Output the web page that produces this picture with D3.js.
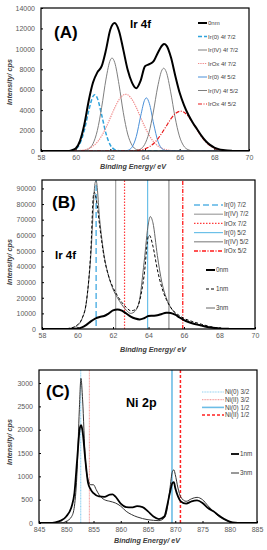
<!DOCTYPE html>
<html><head><meta charset="utf-8">
<script src="https://cdn.jsdelivr.net/npm/d3@7"></script>
<style>body{margin:0;background:#fff}svg{display:block}text{font-family:"Liberation Sans",Arial,sans-serif}</style>
</head><body><svg id="c" width="267" height="550"></svg>
<script>
// ---------- Panel A: Ir 4f fit (Binding energy eV, intensity cps) ----------
const irTotal0nm = [[58,0],[59.5,0],[59.75,60],[60,250],[60.25,1000],[60.5,2600],[60.75,4900],[61,6700],[61.25,7700],[61.5,8300],[61.75,9900],[62,11900],[62.25,12530],[62.5,11750],[62.75,9900],[63,7950],[63.25,6700],[63.5,6150],[63.75,6900],[64,8300],[64.25,8500],[64.5,8800],[64.75,9650],[65,10350],[65.1,10470],[65.25,10300],[65.5,9150],[65.75,7350],[66,5700],[66.25,4500],[66.5,3550],[66.75,2800],[67,2150],[67.25,1500],[67.5,980],[67.75,600],[68,340],[68.25,180],[68.5,90],[68.75,40],[69,15],[69.25,0],[70,0]];
const ir0_72 = [[58,0],[59.5,0],[59.75,35],[60,190],[60.25,740],[60.5,2030],[60.75,3910],[61,5350],[61.1,5500],[61.25,5170],[61.5,3530],[61.75,1700],[62,580],[62.25,140],[62.5,25],[62.75,0],[70,0]];
const irIV_72 = [[58,0],[60,0],[60.25,7],[60.5,45],[60.75,200],[61,720],[61.25,2000],[61.5,4280],[61.75,7040],[62,8910],[62.1,9100],[62.25,8680],[62.5,6510],[62.75,3750],[63,1660],[63.25,570],[63.5,150],[63.75,30],[64,0],[70,0]];
const irOx_72 = [[58,0],[60,0],[60.25,45],[60.5,110],[60.75,240],[61,480],[61.25,880],[61.5,1480],[61.75,2290],[62,3250],[62.25,4220],[62.5,5020],[62.75,5490],[62.88,5550],[63,5500],[63.25,5050],[63.5,4250],[63.75,3280],[64,2330],[64.25,1510],[64.5,900],[64.75,490],[65,250],[65.25,110],[65.5,45],[65.75,0],[70,0]];
const ir0_52 = [[58,0],[62.75,0],[63,60],[63.25,370],[63.5,1430],[63.75,3420],[64,5070],[64.08,5200],[64.25,4660],[64.5,2640],[64.75,930],[65,200],[65.25,30],[65.5,0],[70,0]];
const irIV_52 = [[58,0],[63,0],[63.23,6],[63.48,40],[63.73,177],[63.98,640],[64.23,1780],[64.48,3810],[64.73,6265],[64.98,7930],[65.08,8100],[65.23,7725],[65.48,5790],[65.73,3340],[65.98,1480],[66.23,506],[66.48,133],[66.73,27],[67,0],[70,0]];
const irOx_52 = [[58,0],[63.25,0],[63.5,45],[63.75,100],[64,210],[64.25,410],[64.5,740],[64.75,1210],[65,1820],[65.25,2500],[65.5,3160],[65.75,3660],[66,3890],[66.05,3900],[66.25,3790],[66.5,3390],[66.75,2780],[67,2090],[67.25,1440],[67.5,910],[67.75,530],[68,280],[68.25,140],[68.5,60],[68.75,25],[69,0],[70,0]];
const legendA = ["0nm","Ir(0) 4f 7/2","Ir(IV) 4f 7/2","IrOx 4f 7/2","Ir(0) 4f 5/2","Ir(IV) 4f 5/2","IrOx 4f 5/2"];
const yTicksA = [0,2000,4000,6000,8000,10000,12000,14000];
const xTicksIr = [58,60,62,64,66,68,70];

// ---------- Panel B: Ir 4f depth profile ----------
const ir1nm = [[58,0],[59.25,0],[59.5,400],[59.75,1000],[60,2800],[60.25,6600],[60.5,17500],[60.75,50000],[60.9,86000],[60.95,87500],[61.1,80000],[61.25,66000],[61.5,46000],[61.75,34000],[62,26600],[62.25,21300],[62.5,17000],[62.75,13800],[63,11700],[63.25,12300],[63.5,18000],[63.75,34000],[64,59600],[64.05,60000],[64.25,53000],[64.5,38000],[64.75,26600],[65,19000],[65.25,13800],[65.5,10600],[65.75,8500],[66,6800],[66.5,4700],[67,3000],[67.5,1500],[68,500],[68.5,150],[69,0],[70,0]];
const ir3nm = [[58,0],[59.25,0],[59.5,300],[59.75,900],[60,2100],[60.25,6400],[60.5,17000],[60.75,47000],[61,94000],[61.05,94800],[61.25,70000],[61.5,47000],[61.75,34000],[62,25500],[62.25,20000],[62.5,15500],[62.75,12000],[63,10000],[63.25,11500],[63.5,19000],[63.75,42500],[64,68000],[64.1,72000],[64.25,68000],[64.5,47000],[64.75,30000],[65,20000],[65.25,13800],[65.5,10000],[65.75,7400],[66,5700],[66.5,3600],[67,2100],[67.5,1000],[68,400],[68.5,100],[69,0],[70,0]];
const refLinesB = [61.05,62.15,62.65,63.95,65.15,65.93];
const legendB = ["Ir(0) 7/2","Ir(IV) 7/2","IrOx 7/2","Ir(0) 5/2","Ir(IV) 5/2","IrOx 5/2"];
const legendDepthB = ["0nm","1nm","3nm"];
const yTicksB = [0,10000,20000,30000,40000,50000,60000,70000,80000,90000];

// ---------- Panel C: Ni 2p ----------
const ni1nm = [[845,0],[847,0],[848,15],[849,50],[850,140],[851,360],[851.5,640],[852,1360],[852.5,2040],[852.75,2100],[853,1960],[853.5,1360],[854,860],[854.5,715],[855,640],[856,570],[857,560],[858,610],[858.5,615],[859,570],[860,415],[861,340],[862,335],[863,360],[864,340],[865,250],[866,140],[867,85],[868,140],[868.5,360],[869,640],[869.5,860],[869.75,875],[870,750],[870.5,570],[871,465],[872,415],[873,465],[874,485],[875,430],[876,320],[877,250],[878,160],[879,85],[880,30],[881,5],[882,0],[885,0]];
const ni3nm = [[845,0],[849,0],[850,35],[851,140],[851.5,360],[852,1140],[852.4,2430],[852.7,3100],[853,2640],[853.5,1360],[854,930],[854.5,820],[855,820],[855.5,715],[856,610],[857,500],[858,465],[859,430],[860,360],[861,250],[862,180],[863,130],[864,95],[865,70],[866,57],[867,50],[868,110],[868.5,285],[869,715],[869.5,1110],[869.75,1140],[870,1040],[870.5,750],[871,560],[872,465],[873,520],[874,550],[875,500],[876,370],[877,250],[878,140],[879,70],[880,20],[881,0],[885,0]];
const refLinesC = [852.65,854.25,869.4,870.95];
const legendC = ["Ni(0) 3/2","Ni(II) 3/2","Ni(0) 1/2","Ni(II) 1/2"];
const legendDepthC = ["1nm","3nm"];
const yTicksC = [0,500,1000,1500,2000,2500,3000];
const xTicksC = [845,850,855,860,865,870,875,880,885];

const svg = d3.select("#c");
svg.append("rect").attr("width",267).attr("height",550).attr("fill","#fff");
let clipN = 0;

function panel(o){
  const x = d3.scaleLinear().domain(o.xd).range([o.l,o.r]);
  const y = d3.scaleLinear().domain(o.yd).range([o.b,o.t]);
  const g = svg.append("g");
  const id = "clip"+(clipN++);
  g.append("clipPath").attr("id",id).append("rect")
    .attr("x",o.l).attr("y",o.t).attr("width",o.r-o.l).attr("height",o.b-o.t);
  const ya = g.append("g").attr("transform",`translate(${o.l},0)`)
    .call(d3.axisLeft(y).tickValues(o.yt).tickSize(-2).tickPadding(6).tickFormat(d3.format("d")));
  const xa = g.append("g").attr("transform",`translate(0,${o.b})`)
    .call(d3.axisBottom(x).tickValues(o.xt).tickSize(-2).tickPadding(4).tickFormat(d3.format("d")));
  [ya,xa].forEach(a=>{
    a.select(".domain").remove();
    a.selectAll("line").attr("stroke","#000");
    a.selectAll("text").attr("font-size",7).attr("fill","#595959");
  });
  const plot = g.append("g").attr("clip-path",`url(#${id})`);
  const line = d3.line().x(d=>x(d[0])).y(d=>y(d[1])).curve(d3.curveMonotoneX);
  (o.vlines||[]).forEach(v=>{
    plot.append("line").attr("x1",x(v.x)).attr("x2",x(v.x)).attr("y1",y(v.y0||0)).attr("y2",o.t)
      .attr("stroke",v.c).attr("stroke-width",v.w).attr("stroke-dasharray",v.d||null);
  });
  o.series.forEach(s=>{
    plot.append("path").datum(s.data).attr("d",line).attr("fill","none")
      .attr("stroke",s.c).attr("stroke-width",s.w).attr("stroke-dasharray",s.d||null)
      .attr("stroke-linejoin","round");
  });
  g.append("rect").attr("x",o.l).attr("y",o.t).attr("width",o.r-o.l).attr("height",o.b-o.t)
    .attr("fill","none").attr("stroke","#000").attr("stroke-width",1.2);
  g.append("text").attr("x",o.xtX).attr("y",o.xtY).attr("text-anchor","middle")
    .attr("font-size",7.2).attr("font-weight","bold").attr("font-style","italic").attr("fill","#404040")
    .text("Binding Energy/ eV");
  g.append("text").attr("transform",`translate(${o.ytX},${o.ytY}) rotate(-90)`).attr("text-anchor","middle")
    .attr("font-size",7.2).attr("font-weight","bold").attr("font-style","italic").attr("fill","#404040")
    .text("Intensity/ cps");
  g.append("text").attr("x",o.pl[0]).attr("y",o.pl[1]).attr("font-size",17).attr("font-weight","bold").text(o.plText);
  g.append("text").attr("x",o.el[0]).attr("y",o.el[1]).attr("font-size",o.elSize).attr("font-weight","bold").text(o.elText);
  o.legend.forEach(L=>{
    g.append("line").attr("x1",L.x1).attr("x2",L.x2).attr("y1",L.y).attr("y2",L.y)
      .attr("stroke",L.c).attr("stroke-width",L.w).attr("stroke-dasharray",L.d||null);
    g.append("text").attr("x",L.x2+1).attr("y",L.y).attr("dy","0.35em").attr("font-size",L.fs)
      .attr("fill","#404040").text(L.t);
  });
  return {x,y};
}

// styles
const sBlack = {c:"#000",w:2};
const sIr0_72 = {c:"#2fa3dc",w:1.5,d:"4,2"};
const sGray = {c:"#7f7f7f",w:1};
const sIrOx72 = {c:"#f08a8a",w:1.2,d:"1.3,1"};
const sIr0_52 = {c:"#4a90d9",w:1};
const sIrOx52 = {c:"#e8191a",w:1.2,d:"4,1.5,1,1.5"};
const stylesA = [sBlack,sIr0_72,sGray,sIrOx72,sIr0_52,sGray,sIrOx52];
const dataA = [irTotal0nm,ir0_72,irIV_72,irOx_72,ir0_52,irIV_52,irOx_52];

panel({
  xd:[58,70], yd:[0,14000], l:41, r:249, t:8, b:151, yt:yTicksA, xt:xTicksIr,
  series: dataA.map((d,i)=>Object.assign({data:d},stylesA[i])).slice(1).concat([Object.assign({data:irTotal0nm},sBlack)]),
  xtX:133, xtY:169, ytX:12, ytY:82,
  pl:[54,38], plText:"(A)", el:[130,28], elText:"Ir 4f", elSize:11.5,
  legend: legendA.map((t,i)=>Object.assign({t, x1:198, x2:207, y:23+i*13.5, fs:6},stylesA[i]))
});

const stylesBref = [
  {c:"#5ab4e5",w:1.5,d:"6,3"},
  {c:"#a0a0a0",w:1.2},
  {c:"#ff3b3b",w:1.2,d:"1.5,1.5"},
  {c:"#6cc0e8",w:1.2},
  {c:"#8c8c8c",w:1.2},
  {c:"#ff1a1a",w:1.3,d:"4,1.5,1,1.5"}
];
const stylesBdepth = [sBlack,{c:"#000",w:1,d:"3,2"},{c:"#666",w:1}];
panel({
  xd:[58,70], yd:[0,95400], l:42, r:255, t:180, b:329, yt:yTicksB, xt:xTicksIr,
  vlines: refLinesB.map((v,i)=>Object.assign({x:v, y0: i===0?2000:0},stylesBref[i])),
  series: [Object.assign({data:ir3nm},stylesBdepth[2]),Object.assign({data:ir1nm},stylesBdepth[1]),Object.assign({data:irTotal0nm},stylesBdepth[0])],
  xtX:153, xtY:352, ytX:12, ytY:262,
  pl:[52,208], plText:"(B)", el:[55,259], elText:"Ir 4f", elSize:11.5,
  legend: legendB.map((t,i)=>Object.assign({t, x1:194, x2:223, y:205+i*9.2, fs:6.3},stylesBref[i]))
    .concat(legendDepthB.map((t,i)=>Object.assign({t, x1:206, x2:215, y:270+i*19, fs:6.3},stylesBdepth[i])))
});

const stylesCref = [
  {c:"#8fd0f0",w:1.2,d:"1,0.6"},
  {c:"#f4a3a3",w:1.2,d:"1,0.6"},
  {c:"#6cbde6",w:1.6},
  {c:"#ff2222",w:1.5,d:"3,2"}
];
const stylesCdepth = [{c:"#000",w:1.8},{c:"#333",w:1}];
panel({
  xd:[845,885], yd:[0,3280], l:39, r:257, t:370, b:523, yt:yTicksC, xt:xTicksC,
  vlines: refLinesC.map((v,i)=>Object.assign({x:v},stylesCref[i])),
  series: [Object.assign({data:ni3nm},stylesCdepth[1]),Object.assign({data:ni1nm},stylesCdepth[0])],
  xtX:147, xtY:543, ytX:12, ytY:442,
  pl:[46,397], plText:"(C)", el:[126,407], elText:"Ni 2p", elSize:12.5,
  legend: legendC.map((t,i)=>Object.assign({t, x1:202, x2:224, y:392+i*7.7, fs:6.3},stylesCref[i]))
    .concat(legendDepthC.map((t,i)=>Object.assign({t, x1:231, x2:239, y:454+i*19, fs:6.3},stylesCdepth[i])))
});
</script></body></html>
